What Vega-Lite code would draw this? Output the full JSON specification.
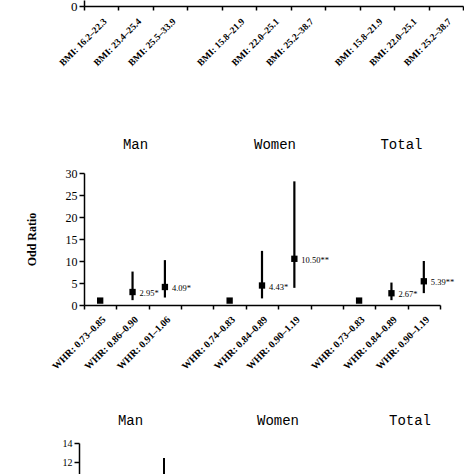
{
  "$schema": "https://vega.github.io/schema/vega-lite/v6.json",
  "padding": {"left": 25, "top": 0, "right": 0, "bottom": 0},
  "config": {
    "font": "Liberation Serif",
    "view": {"stroke": null},
    "axis": {
      "grid": false,
      "domainColor": "black",
      "tickColor": "black",
      "labelColor": "black",
      "titleColor": "black",
      "domainWidth": 1.5,
      "tickWidth": 1.5,
      "labelFont": "Liberation Serif",
      "titleFont": "Liberation Serif",
      "labelOverlap": false
    }
  },
  "datasets": {
    "bmi": [
      {"cat": "BMI: 16.2–22.3"}, {"cat": "BMI: 23.4–25.4"}, {"cat": "BMI: 25.5–33.9"},
      {"cat": "BMI: 15.8–21.9"}, {"cat": "BMI: 22.0–25.1"}, {"cat": "BMI: 25.2–38.7"},
      {"cat": " BMI: 15.8–21.9"}, {"cat": " BMI: 22.0–25.1"}, {"cat": " BMI: 25.2–38.7"}
    ],
    "whr": [
      {"cat": "WHR: 0.73–0.85", "ratio": 1, "lab": ""},
      {"cat": "WHR: 0.86–0.90", "ratio": 2.95, "lo": 1.1, "hi": 7.6, "lab": "2.95*"},
      {"cat": "WHR: 0.91–1.06", "ratio": 4.09, "lo": 1.7, "hi": 10.2, "lab": "4.09*"},
      {"cat": "WHR: 0.74–0.83", "ratio": 1, "lab": ""},
      {"cat": "WHR: 0.84–0.89", "ratio": 4.43, "lo": 1.5, "hi": 12.3, "lab": "4.43*"},
      {"cat": "WHR: 0.90–1.19", "ratio": 10.5, "lo": 3.9, "hi": 28.1, "lab": "10.50**"},
      {"cat": "WHR: 0.73–0.83", "ratio": 1, "lab": ""},
      {"cat": " WHR: 0.84–0.89", "ratio": 2.67, "lo": 1.1, "hi": 5.1, "lab": "2.67*"},
      {"cat": " WHR: 0.90–1.19", "ratio": 5.39, "lo": 2.7, "hi": 10.0, "lab": "5.39**"}
    ],
    "third": [
      {"cat": "a3", "lo": 2.0, "hi": 12.45}
    ]
  },
  "concat": [
    {
      "width": 379,
      "height": 6,
      "data": {"name": "bmi"},
      "mark": {"type": "point", "opacity": 0},
      "encoding": {
        "x": {
          "field": "cat", "type": "nominal", "sort": null,
          "scale": {"domain": ["BMI: 16.2–22.3", "BMI: 23.4–25.4", "BMI: 25.5–33.9", " ", "BMI: 15.8–21.9", "BMI: 22.0–25.1", "BMI: 25.2–38.7", "  ", " BMI: 15.8–21.9", " BMI: 22.0–25.1", " BMI: 25.2–38.7"]},
          "axis": {"title": null, "tickBand": "extent", "labelAngle": -45, "labelFontSize": 9.5, "labelFontWeight": "bold", "tickSize": 4, "labelPadding": 6, "labelOverlap": false}
        },
        "y": {
          "datum": 0, "type": "quantitative",
          "scale": {"domain": [0, 1]},
          "axis": {"values": [0], "title": null, "tickSize": 5, "labelFontSize": 13, "minExtent": 45, "maxExtent": 45, "labelOverlap": false}
        }
      }
    },
    {
      "columns": 1,
      "align": "none",
      "spacing": 42,
      "concat": [
        {
          "width": 356,
          "height": 132,
          "data": {"name": "whr"},
          "encoding": {
            "x": {
              "field": "cat", "type": "nominal", "sort": null,
              "scale": {"domain": ["WHR: 0.73–0.85", "WHR: 0.86–0.90", "WHR: 0.91–1.06", " ", "WHR: 0.74–0.83", "WHR: 0.84–0.89", "WHR: 0.90–1.19", "  ", "WHR: 0.73–0.83", " WHR: 0.84–0.89", " WHR: 0.90–1.19"]},
              "axis": {"title": null, "tickBand": "extent", "labelAngle": -45, "labelFontSize": 10, "labelFontWeight": "bold", "tickSize": 4, "labelPadding": 5, "labelOverlap": false}
            }
          },
          "layer": [
            {
              "transform": [{"filter": "isValid(datum.hi)"}],
              "mark": {"type": "rule", "color": "black", "strokeWidth": 2.2},
              "encoding": {
                "y": {"field": "lo", "type": "quantitative", "scale": {"domain": [0, 30]},
                  "axis": {"values": [0, 5, 10, 15, 20, 25, 30], "tickCount": 7, "labelOverlap": false, "title": "Odd Ratio", "titleFontSize": 12, "titleFontWeight": "bold", "labelFontSize": 12, "tickSize": 5, "minExtent": 20, "maxExtent": 20, "titlePadding": 26}},
                "y2": {"field": "hi"}
              }
            },
            {
              "mark": {"type": "point", "shape": "square", "filled": true, "color": "black", "opacity": 1, "size": 40},
              "encoding": {"y": {"field": "ratio", "type": "quantitative",
                  "axis": {"values": [0, 5, 10, 15, 20, 25, 30], "tickCount": 7, "labelOverlap": false, "title": "Odd Ratio", "titleFontSize": 12, "titleFontWeight": "bold", "labelFontSize": 12, "tickSize": 5, "minExtent": 20, "maxExtent": 20, "titlePadding": 26}}}
            },
            {
              "transform": [{"filter": "datum.lab != ''"}],
              "mark": {"type": "text", "align": "left", "baseline": "middle", "dx": 7, "dy": 1, "fontSize": 8.5, "font": "Liberation Serif", "color": "black"},
              "encoding": {"y": {"field": "ratio", "type": "quantitative"}, "text": {"field": "lab"}}
            },
            {
              "data": {"values": [{"head": "Man", "cat": "WHR: 0.86–0.90"}]},
              "mark": {"type": "text", "font": "Liberation Mono", "fontSize": 14, "color": "black", "dx": 3, "dy": -28, "baseline": "middle"},
              "encoding": {"y": {"datum": 30, "type": "quantitative"}, "text": {"field": "head"}}
            },
            {
              "data": {"values": [{"head": "Women", "cat": "WHR: 0.84–0.89"}]},
              "mark": {"type": "text", "font": "Liberation Mono", "fontSize": 14, "color": "black", "dx": 13, "dy": -28, "baseline": "middle"},
              "encoding": {"y": {"datum": 30, "type": "quantitative"}, "text": {"field": "head"}}
            },
            {
              "data": {"values": [{"head": "Total", "cat": " WHR: 0.84–0.89"}]},
              "mark": {"type": "text", "font": "Liberation Mono", "fontSize": 14, "color": "black", "dx": 10, "dy": -28, "baseline": "middle"},
              "encoding": {"y": {"datum": 30, "type": "quantitative"}, "text": {"field": "head"}}
            }
          ]
        },
        {
          "width": 352,
          "height": 135,
          "data": {"name": "third"},
          "encoding": {
            "x": {
              "field": "cat", "type": "nominal", "sort": null,
              "scale": {"domain": ["a1", "a2", "a3", "g1", "b1", "b2", "b3", "g2", "c1", "c2", "c3"]},
              "axis": {"title": null, "tickBand": "extent", "labels": false, "tickSize": 4}
            }
          },
          "layer": [
            {
              "mark": {"type": "rule", "color": "black", "strokeWidth": 2},
              "encoding": {
                "y": {"field": "lo", "type": "quantitative", "scale": {"domain": [0, 14]},
                  "axis": {"values": [0, 2, 4, 6, 8, 10, 12, 14], "tickCount": 8, "labelOverlap": false, "offset": 5, "title": "Odd Ratio", "titleFontSize": 12, "titleFontWeight": "bold", "labelFontSize": 10, "tickSize": 5, "minExtent": 18, "maxExtent": 18, "titlePadding": 18}},
                "y2": {"field": "hi"}
              }
            },
            {
              "data": {"values": [{"head": "Man", "cat": "a2"}]},
              "mark": {"type": "text", "font": "Liberation Mono", "fontSize": 14, "color": "black", "dx": -1.5, "dy": -22, "baseline": "middle"},
              "encoding": {"y": {"datum": 14, "type": "quantitative"}, "text": {"field": "head"}}
            },
            {
              "data": {"values": [{"head": "Women", "cat": "b2"}]},
              "mark": {"type": "text", "font": "Liberation Mono", "fontSize": 14, "color": "black", "dx": 18, "dy": -22, "baseline": "middle"},
              "encoding": {"y": {"datum": 14, "type": "quantitative"}, "text": {"field": "head"}}
            },
            {
              "data": {"values": [{"head": "Total", "cat": "c2"}]},
              "mark": {"type": "text", "font": "Liberation Mono", "fontSize": 14, "color": "black", "dx": 22, "dy": -22, "baseline": "middle"},
              "encoding": {"y": {"datum": 14, "type": "quantitative"}, "text": {"field": "head"}}
            }
          ]
        }
      ]
    }
  ],
  "columns": 1,
  "align": "none",
  "spacing": 71
}
